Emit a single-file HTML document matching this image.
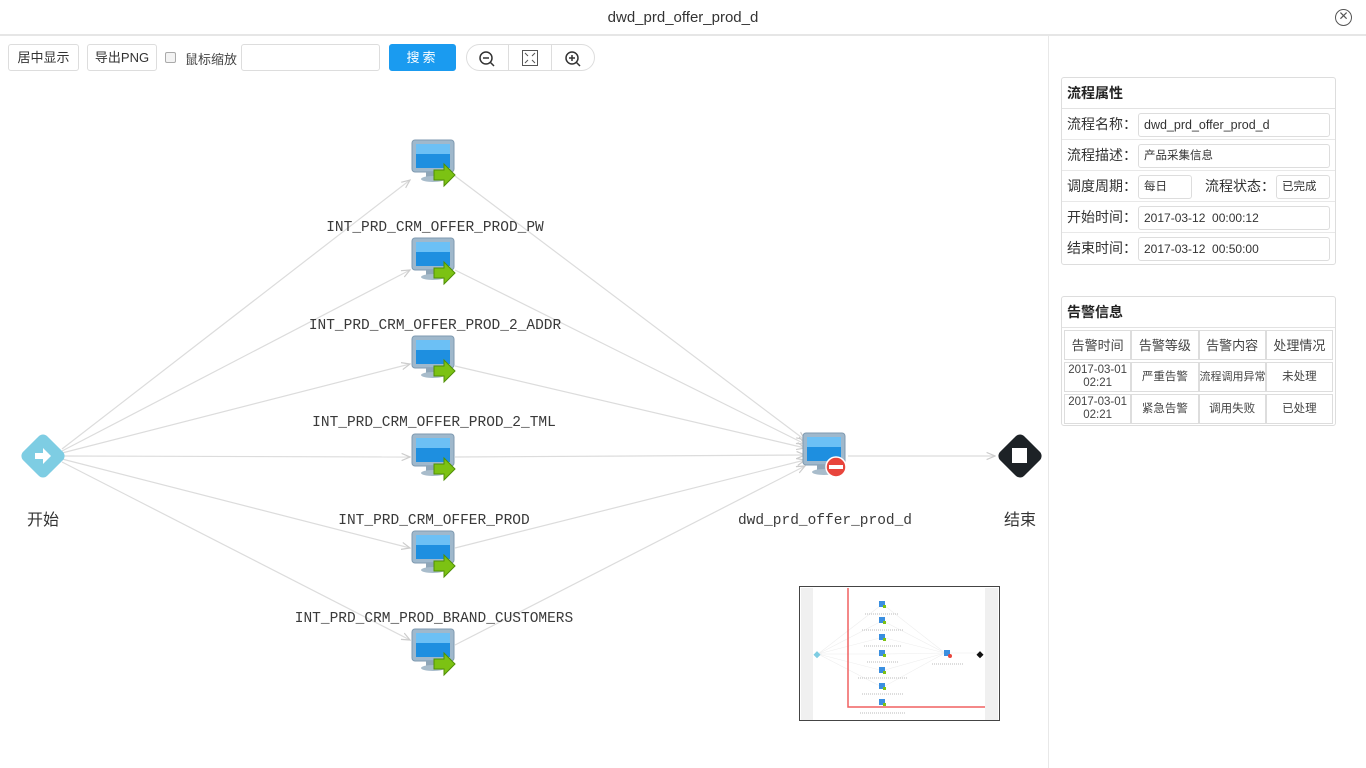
<!DOCTYPE html>
<html><head><meta charset="utf-8"><style>
*{box-sizing:border-box;margin:0;padding:0}
body{width:1366px;height:768px;overflow:hidden;background:#fff;font-family:"Liberation Sans","Noto Sans CJK SC",sans-serif;position:relative;color:#333}
.title{position:absolute;left:0;top:0;width:1366px;height:36px;border-bottom:2px solid #e6e6e6;text-align:center;line-height:36px;font-size:15px;color:#333}
.close{position:absolute;right:14px;top:9px;width:17px;height:17px;border:1.5px solid #555;border-radius:50%;font-size:12px;line-height:13px;text-align:center;color:#555}
.btn{position:absolute;top:44px;height:27px;border:1px solid #ddd;border-radius:3px;font-size:13px;line-height:25px;text-align:center;color:#333;background:#fff}
.side{position:absolute;left:1048px;top:36px;width:1px;height:732px;background:#e8e8e8}
.panel{position:absolute;left:1061px;width:275px;border:1px solid #ddd;border-radius:3px;background:#fff}
.ph{height:31px;line-height:30px;padding-left:5px;font-size:14px;font-weight:bold;color:#222;border-bottom:1px solid #e2e2e2}
.row{height:31px;border-bottom:1px solid #e8e8e8;position:relative;font-size:14px}
.row:last-child{border-bottom:none}
.lab{position:absolute;left:5px;top:0;line-height:30px;color:#333}
.inp{position:absolute;top:4px;height:24px;border:1px solid #ddd;border-radius:3px;font-size:11.5px;line-height:22px;padding-left:5px;color:#333}
table{border-collapse:separate;border-spacing:0 2px;margin:0 2px;width:269px;table-layout:fixed}
td{border:1px solid #ddd;text-align:center;font-size:11.5px;color:#444;height:30px;line-height:13px;padding:0;white-space:nowrap;overflow:hidden}
</style></head><body>
<div class="title">dwd_prd_offer_prod_d</div>
<div class="close">✕</div>
<div class="btn" style="left:8px;width:71px">居中显示</div>
<div class="btn" style="left:87px;width:70px">导出PNG</div>
<div style="position:absolute;left:165px;top:52px;width:11px;height:11px;border:1px solid #aaa;border-radius:2px;background:#f3f3f3"></div>
<div style="position:absolute;left:185px;top:49px;font-size:13px;color:#444">鼠标缩放</div>
<div class="btn" style="left:241px;width:139px"></div>
<div class="btn" style="left:389px;width:67px;background:#1a9bf0;border-color:#1a9bf0;color:#fff;letter-spacing:3px">搜索</div>
<div class="btn" style="left:466px;width:129px;border-radius:14px"></div>
<div style="position:absolute;left:508px;top:45px;width:1px;height:25px;background:#ddd"></div>
<div style="position:absolute;left:551px;top:45px;width:1px;height:25px;background:#ddd"></div>
<svg style="position:absolute;left:0;top:0" width="1366" height="768">
<g stroke="#333" stroke-width="1.5" fill="none">
<circle cx="486" cy="58" r="6"/><line x1="490" y1="62" x2="494" y2="66"/><line x1="483" y1="58" x2="489" y2="58"/>
<circle cx="572" cy="58" r="6"/><line x1="576" y1="62" x2="580" y2="66"/><line x1="569" y1="58" x2="575" y2="58"/><line x1="572" y1="55" x2="572" y2="61"/>
</g>
<g stroke="#555" stroke-width="1" fill="none">
<rect x="522.5" y="50.5" width="15" height="15"/>
<path d="M525,53 l3,3 M535,53 l-3,3 M525,63 l3,-3 M535,63 l-3,-3"/>
</g>
<defs>
<marker id="ar" markerWidth="8" markerHeight="8" refX="7" refY="4" orient="auto"><path d="M0,1 L7,4 L0,7" fill="none" stroke="#ccc" stroke-width="1"/></marker>
<g id="pc">
<rect x="0" y="0" width="42" height="32" rx="3" fill="#9fb8cc" stroke="#7f9ab0"/>
<rect x="4" y="4" width="34" height="24" fill="#1e8fe0"/>
<rect x="4" y="4" width="34" height="10" fill="#6cc0f5"/>
<rect x="14" y="32" width="14" height="5" fill="#8fa6b8"/>
<ellipse cx="21" cy="39" rx="12" ry="3" fill="#a8bccb"/>
</g>
<g id="ok"><path d="M0,-5 h10 v-6 l11,11 l-11,11 v-6 h-10z" fill="#7cc213" stroke="#4f8f06"/></g>
</defs>
<g stroke="#dcdcdc" stroke-width="1.2" fill="none" marker-end="url(#ar)">
<line x1="62" y1="449" x2="410" y2="180"/>
<line x1="62" y1="451" x2="410" y2="270"/>
<line x1="62" y1="453" x2="410" y2="364"/>
<line x1="62" y1="456" x2="410" y2="457"/>
<line x1="62" y1="459" x2="410" y2="548"/>
<line x1="62" y1="462" x2="410" y2="640"/>
<line x1="455" y1="176" x2="805" y2="440"/>
<line x1="455" y1="270" x2="805" y2="444"/>
<line x1="455" y1="366" x2="805" y2="448"/>
<line x1="455" y1="457" x2="805" y2="455"/>
<line x1="455" y1="548" x2="805" y2="460"/>
<line x1="455" y1="645" x2="805" y2="466"/>
<line x1="848" y1="456" x2="995" y2="456"/>
</g>
<use href="#pc" x="412" y="140"/><use href="#ok" x="434" y="175"/>
<use href="#pc" x="412" y="238"/><use href="#ok" x="434" y="273"/>
<use href="#pc" x="412" y="336"/><use href="#ok" x="434" y="371"/>
<use href="#pc" x="412" y="434"/><use href="#ok" x="434" y="469"/>
<use href="#pc" x="412" y="531"/><use href="#ok" x="434" y="566"/>
<use href="#pc" x="412" y="629"/><use href="#ok" x="434" y="664"/>
<use href="#pc" x="803" y="433"/>
<circle cx="836" cy="467" r="10" fill="#e8453c" stroke="#fff" stroke-width="1.5"/><rect x="829" y="465" width="14" height="4" fill="#fff"/>
<rect x="26" y="439" width="34" height="34" rx="6" fill="#7ecde3" transform="rotate(45 43 456)"/>
<path d="M35,453 h8 v-5 l8,8 l-8,8 v-5 h-8z" fill="#fff"/>
<rect x="1003" y="439" width="34" height="34" rx="6" fill="#1d2226" transform="rotate(45 1020 456)"/>
<rect x="1012" y="448" width="15" height="15" fill="#fff"/>
<g font-size="14.5" fill="#3a3a3a" font-family="Liberation Mono,DejaVu Sans Mono,monospace" text-anchor="middle">
<text x="435" y="231">INT_PRD_CRM_OFFER_PROD_PW</text>
<text x="435" y="329">INT_PRD_CRM_OFFER_PROD_2_ADDR</text>
<text x="434" y="426">INT_PRD_CRM_OFFER_PROD_2_TML</text>
<text x="434" y="524">INT_PRD_CRM_OFFER_PROD</text>
<text x="434" y="622">INT_PRD_CRM_PROD_BRAND_CUSTOMERS</text>
<text x="825" y="524">dwd_prd_offer_prod_d</text>
</g>
<text x="43" y="525" font-size="16" text-anchor="middle" fill="#333">开始</text>
<text x="1020" y="525" font-size="16" text-anchor="middle" fill="#333">结束</text>
<rect x="799.5" y="586.5" width="200" height="134" fill="#fff" stroke="#444"/>
<rect x="801" y="588" width="12" height="132" fill="#f0f0f0"/>
<rect x="985" y="588" width="13" height="132" fill="#f0f0f0"/>
<g stroke="#eee" stroke-width="0.6">
<line x1="818" y1="654" x2="880" y2="606"/><line x1="818" y1="654" x2="880" y2="622"/><line x1="818" y1="654" x2="880" y2="638"/><line x1="818" y1="654" x2="880" y2="654"/><line x1="818" y1="654" x2="880" y2="670"/><line x1="818" y1="654" x2="880" y2="686"/>
<line x1="885" y1="606" x2="945" y2="653"/><line x1="885" y1="622" x2="945" y2="653"/><line x1="885" y1="638" x2="945" y2="653"/><line x1="885" y1="654" x2="945" y2="653"/><line x1="885" y1="670" x2="945" y2="653"/><line x1="885" y1="686" x2="945" y2="653"/><line x1="950" y1="653" x2="978" y2="653"/>
</g>
<g stroke="#bbb" stroke-width="1" stroke-dasharray="1,1"><line x1="865" y1="614" x2="899" y2="614"/><line x1="862" y1="630" x2="903" y2="630"/><line x1="864" y1="646" x2="901" y2="646"/><line x1="867" y1="662" x2="898" y2="662"/><line x1="858" y1="678" x2="907" y2="678"/><line x1="862" y1="694" x2="903" y2="694"/><line x1="860" y1="713" x2="906" y2="713"/><line x1="932" y1="664" x2="963" y2="664"/></g>
<path d="M848,588 V707 H985" fill="none" stroke="#f06060" stroke-width="1.5"/>
<g fill="#3a8fe0"><rect x="879" y="601" width="6" height="6"/><rect x="879" y="617" width="6" height="6"/><rect x="879" y="634" width="6" height="6"/><rect x="879" y="650" width="6" height="6"/><rect x="879" y="667" width="6" height="6"/><rect x="879" y="683" width="6" height="6"/><rect x="879" y="699" width="6" height="6"/><rect x="944" y="650" width="6" height="6"/></g>
<g fill="#7cc213"><rect x="883" y="605" width="3" height="3"/><rect x="883" y="621" width="3" height="3"/><rect x="883" y="638" width="3" height="3"/><rect x="883" y="654" width="3" height="3"/><rect x="883" y="671" width="3" height="3"/><rect x="883" y="687" width="3" height="3"/><rect x="883" y="703" width="3" height="3"/></g>
<circle cx="950" cy="656" r="2" fill="#e8453c"/>
<rect x="815" y="652" width="5" height="5" fill="#7ecde3" transform="rotate(45 817 654)"/>
<rect x="978" y="652" width="5" height="5" fill="#111" transform="rotate(45 980 654)"/>
</svg>
<div class="side"></div>
<div class="panel" style="top:77px;height:188px">
<div class="ph">流程属性</div>
<div class="row"><span class="lab">流程名称：</span><div class="inp" style="left:76px;width:192px;font-size:12.5px">dwd_prd_offer_prod_d</div></div>
<div class="row"><span class="lab">流程描述：</span><div class="inp" style="left:76px;width:192px">产品采集信息</div></div>
<div class="row"><span class="lab">调度周期：</span><div class="inp" style="left:76px;width:54px">每日</div><span class="lab" style="left:143px">流程状态：</span><div class="inp" style="left:214px;width:54px">已完成</div></div>
<div class="row"><span class="lab">开始时间：</span><div class="inp" style="left:76px;width:192px;font-size:12px">2017-03-12&nbsp; 00:00:12</div></div>
<div class="row"><span class="lab">结束时间：</span><div class="inp" style="left:76px;width:192px;font-size:12px">2017-03-12&nbsp; 00:50:00</div></div>
</div>
<div class="panel" style="top:296px;height:130px;overflow:hidden">
<div class="ph">告警信息</div>
<table>
<tr><td style="font-size:13px;height:25px">告警时间</td><td style="font-size:13px">告警等级</td><td style="font-size:13px">告警内容</td><td style="font-size:13px">处理情况</td></tr>
<tr><td style="height:29px">2017-03-01<br>02:21</td><td>严重告警</td><td style="font-size:11px">流程调用异常</td><td>未处理</td></tr>
<tr><td style="height:29px">2017-03-01<br>02:21</td><td>紧急告警</td><td>调用失败</td><td>已处理</td></tr>
</table>
</div>
</body></html>
